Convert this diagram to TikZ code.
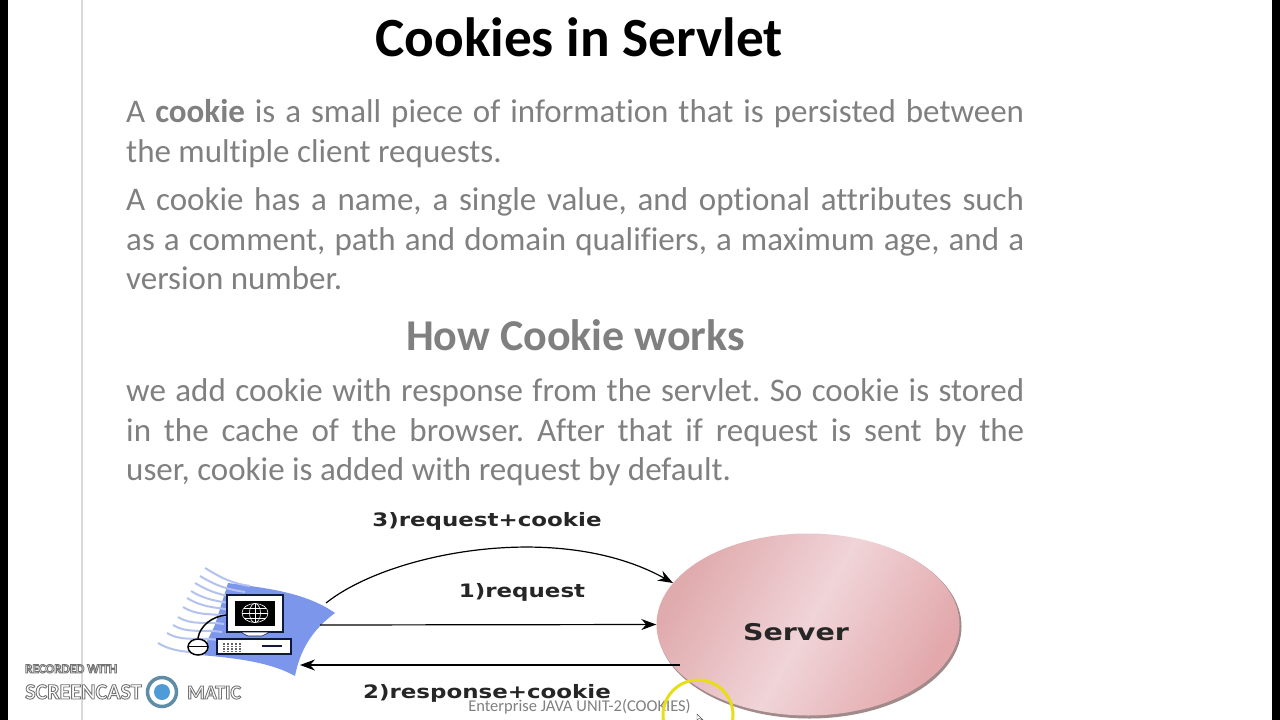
\documentclass[tikz,border=0pt]{standalone}
\usepackage{fontspec}
\setmainfont{Carlito}[Ligatures=NoCommon]
\newfontfamily\labelfont{DejaVu Sans}[FakeStretch=1.24]
\usetikzlibrary{shapes.geometric, arrows.meta, positioning}
\definecolor{bodygray}{HTML}{808080}
\definecolor{blobblue}{HTML}{7B96EA}
\definecolor{streakblue}{HTML}{B4C2F0}
\definecolor{navybox}{HTML}{101840}
\definecolor{serverdark}{HTML}{E0ABAD}
\definecolor{serverlight}{HTML}{F0D4D8}
\definecolor{serverred}{HTML}{E2A8AB}
\definecolor{serverrim}{HTML}{A08A8A}
\definecolor{dialring}{HTML}{5F8CA6}
\definecolor{dialdot}{HTML}{4F9BD8}
\tikzstyle{slidetitle} = [anchor=base, font=\fontsize{55.3}{55}\selectfont\bfseries, text=black, inner sep=0pt]
\tikzstyle{subhead} = [anchor=base, font=\fontsize{44}{44}\selectfont\bfseries, text=bodygray, inner sep=0pt]
\tikzstyle{para} = [anchor=north west, text width=898pt, align=justify, inner sep=0pt, text=bodygray, font=\fontsize{33}{39.6}\selectfont]
\tikzstyle{tag} = [anchor=base, inner sep=0pt, text=black!85, font=\fontsize{18.5}{18.5}\selectfont\labelfont\bfseries]
\tikzstyle{arrow} = [line width=1.2pt,-{Stealth[length=15pt,width=11pt]}]
\tikzstyle{stamp} = [anchor=base west, inner sep=0pt, text=white]
\newcommand{\outlined}[1]{\special{pdf: code q 2 Tr 0.9 w 0.45 0.45 0.45 RG 1 1 1 rg}#1\special{pdf: code Q}}
\frenchspacing
\begin{document}
\begin{tikzpicture}[x=1pt, y=-1pt]
  \useasboundingbox (0,0) rectangle (1280,720);
  % page and side bars
  \fill[white] (0,0) rectangle (1280,720);
  \fill[black] (0,0) rectangle (8,720);
  \fill[black] (1272,0) rectangle (1280,720);
  \draw[black!15, line width=2pt] (82,0) -- (82,720);

  % slide text
  \node[slidetitle] (head) at (579,56) {Cookies in Servlet};
  \node[para] (first) at (126,99.5) {A \textbf{cookie} is a small piece of information that is persisted between\linebreak the multiple client requests.};
  \node[para] (second) at (126,187.5) {A cookie has a name, a single value, and optional attributes such\linebreak as a comment, path and domain qualifiers, a maximum age, and a\linebreak version number.};
  \node[subhead] (how) at (575.5,350) {How Cookie works};
  \node[para] (third) at (126,378.5) {we add cookie with response from the servlet. So cookie is stored\linebreak in the cache of the browser. After that if request is sent by the\linebreak user, cookie is added with request by default.};

  % client blob
  \fill[blobblue] (228,583) .. controls (265,588) and (305,592) .. (335,613)
    .. controls (312,630) and (300,650) .. (295,676)
    .. controls (270,662) and (235,658) .. (200,655) -- (215,625) -- cycle;
  \foreach \sx/\sy/\ex/\ey in {205/568/250/586, 200/576/245/592, 195/583/240/598, 191/591/236/604, 187/598/232/610, 183/607/228/616, 178/617/224/624, 173/625/222/632, 167/633/218/640, 158/643/205/654} {
    \draw[streakblue, line width=2pt] (\sx,\sy) .. controls ({\sx+15},{\sy+9}) and ({\ex-20},{\ey-3}) .. (\ex,\ey);
  }

  % computer
  \draw[navybox, line width=2pt, fill=white] (227,595) rectangle (283,632);
  \fill[black] (235,601) rectangle (275,626);
  \draw[white, semithick] (255,613) ellipse (13 and 9.5);
  \draw[white, semithick] (255,613) ellipse (5.5 and 9.5);
  \draw[white, semithick] (255,603.5) -- (255,622.5) (242,613) -- (268,613) (244,608) -- (266,608) (244,618) -- (266,618);
  \draw[navybox, semithick, fill=white] (240,632) -- (270,632) -- (262,636) -- (248,636) -- cycle;
  \draw[navybox, line width=2pt, fill=white] (217,639) rectangle (291,654);
  \draw[navybox, line width=1.5pt] (262,646) -- (282,646);
  \foreach \kx in {224,228,232,236,240} {
    \draw[black!60, line width=1.5pt, dash pattern=on 1.5pt off 1pt] (\kx,643) -- (\kx,651);
  }
  \draw[black, line width=1.5pt] (227,615) .. controls (212,616) and (200,626) .. (198,638);
  \draw[black, line width=1.5pt, fill=white] (198,647) ellipse (10 and 8);
  \draw[black, thick] (188,646) -- (208,646);

  % connector ends on the client
  \coordinate (clientTop) at (326,603);
  \coordinate (clientMid) at (320,625);
  \coordinate (clientLow) at (300,665);

  % server
  \node[ellipse, minimum width=304pt, minimum height=184pt, fill=serverrim, inner sep=0pt] (rim) at (809.5,626.5) {};
  \node[ellipse, minimum width=303pt, minimum height=182pt, inner sep=0pt, left color=serverdark, right color=serverred, middle color=serverlight, shading angle=60] (server) at (808,624.5) {};
  \node[anchor=base, inner sep=0pt, text=black!85, font=\fontsize{23}{23}\selectfont\labelfont\bfseries] (servername) at (796,640) {Server};
  \coordinate (serverTop) at (673,583);
  \coordinate (serverLow) at (680,665);

  % connectors
  \draw[arrow] (clientTop) .. controls (390,552) and (560,520) .. (serverTop);
  \draw[arrow] (clientMid) -- (server.west);
  \draw[arrow] (serverLow) -- (clientLow);

  \node[tag] (thirdtag) at (487,526) {3)request+cookie};
  \node[tag] (firsttag) at (522,597) {1)request};
  \node[tag] (secondtag) at (487,698) {2)response+cookie};
  \node[anchor=base, inner sep=0pt, text=bodygray, font=\fontsize{16.5}{16.5}\selectfont] (footer) at (579.5,711) {Enterprise JAVA UNIT-2(COOKIES)};

  % pointer highlight
  \draw[yellow!90!black, line width=3pt] (698,715) circle (35);
  \draw[black!70, fill=white] (697,714) -- (697,720) -- (699,718.5) -- (703,720) -- cycle;

  % recorder mark
  \node[stamp, font=\fontsize{13}{13}\selectfont\bfseries] (recorded) at (25,673) {\outlined{RECORDED WITH}};
  \node[stamp, font=\fontsize{22}{22}\selectfont\bfseries] (screencast) at (25,699) {\outlined{SCREENCAST}};
  \node[circle, draw=dialring, line width=3.5pt, fill=white, minimum size=29pt, inner sep=0pt] (dial) at (162,692) {};
  \node[circle, fill=dialdot, minimum size=16pt, inner sep=0pt] (dot) at (dial) {};
  \node[stamp, font=\fontsize{20}{20}\selectfont\bfseries] (matic) at (187,699) {\outlined{MATIC}};
\end{tikzpicture}
\end{document}
